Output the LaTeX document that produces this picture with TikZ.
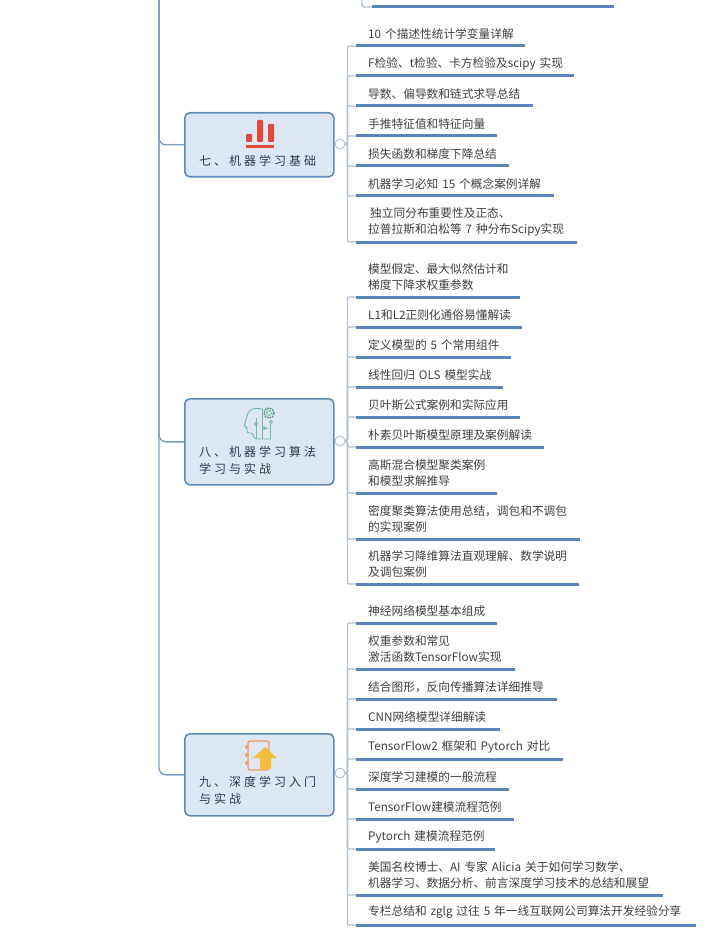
\documentclass[tikz,border=0pt]{standalone}
\usepackage{fontspec}
\setmainfont{Noto Sans CJK SC}
\newfontfamily\topicfont[LetterSpace=25]{Noto Sans CJK SC}
\usepackage{tikz}
\pgfdeclarelayer{background}
\pgfsetlayers{background,main}
\definecolor{linkblue}{HTML}{5B83BC}
\definecolor{stemgray}{HTML}{AFC0D3}
\definecolor{trunkblue}{HTML}{7C9CC4}
\definecolor{topicfill}{HTML}{DDE7F4}
\definecolor{topicline}{HTML}{5F8AB6}
\definecolor{leaftext}{HTML}{3F3F3F}
\definecolor{topictext}{HTML}{2F3C4C}
\definecolor{barred}{HTML}{E0483A}
\definecolor{headgreen}{HTML}{6FBF9B}
\definecolor{bookorange}{HTML}{F0A060}
\definecolor{arrowyellow}{HTML}{F7BE3C}

\begin{document}
\begin{tikzpicture}[
		x=1pt, y=-1pt,
		leaf/.style={anchor=south west, inner xsep=12pt, inner ysep=6pt, text width=#1pt, align=left, text=leaftext, font=\fontsize{11.7}{16}\selectfont},
		topic/.style={draw=topicline, fill=topicfill, line width=1.6pt, rounded corners=5pt, anchor=north west, minimum width=149pt, minimum height=#1pt, inner sep=0pt},
		topiclabel/.style={anchor=north west, inner sep=0pt, text width=130pt, align=left, text=topictext, font=\fontsize{12}{17}\topicfont},
		fold/.style={circle, draw=topicline!60, fill=white, line width=0.8pt, minimum size=10pt, inner sep=0pt},
		under/.style={draw=linkblue, line width=3pt},
		stem/.style={draw=stemgray, line width=1.3pt, rounded corners=2pt},
		trunk/.style={draw=trunkblue, line width=1.4pt, rounded corners=7pt},
		]
		\useasboundingbox (0,0) rectangle (706,941);
		
		%Nodes
		\coordinate (top) at (159,0);
		\coordinate (prevtop) at (362,0);
		\coordinate (prevl) at (372,7);
		\coordinate (prevr) at (614,7);
		
		\node[topic=64]    (b7)    at (184,112)    {};
		\node[topiclabel]  (t7)    at (199,155)    {七、机器学习基础};
		\node[fold]        (c7)    at (340,144)    {};
		\node[leaf=145]    (n70)   at (356,46)     {10~个描述性统计学变量详解};
		\node[leaf=194]    (n71)   at (356,76)     {F检验、t检验、卡方检验及scipy~实现};
		\node[leaf=153]    (n72)   at (356,106)    {导数、偏导数和链式求导总结};
		\node[leaf=117]    (n73)   at (356,136)    {手推特征值和特征向量};
		\node[leaf=129]    (n74)   at (356,166)    {损失函数和梯度下降总结};
		\node[leaf=174]    (n75)   at (356,196)    {机器学习必知~15~个概念案例详解};
		\node[leaf=197]    (n76)   at (356,242)    {\hspace{2pt}独立同分布重要性及正态、\\拉普拉斯和泊松等~7~种分布Scipy实现};
		
		\node[topic=86]    (b8)    at (184,398)    {};
		\node[topiclabel]  (t8)    at (199,446)    {八、机器学习算法\\学习与实战};
		\node[fold]        (c8)    at (340,441)    {};
		\node[leaf=140]    (n80)   at (356,297)    {模型假定、最大似然估计和\\梯度下降求权重参数};
		\node[leaf=142]    (n81)   at (356,327)    {L1和L2正则化通俗易懂解读};
		\node[leaf=131]    (n82)   at (356,357)    {定义模型的~5~个常用组件};
		\node[leaf=123]    (n83)   at (356,387)    {线性回归~OLS~模型实战};
		\node[leaf=140]    (n84)   at (356,417)    {贝叶斯公式案例和实际应用};
		\node[leaf=164]    (n85)   at (356,447)    {朴素贝叶斯模型原理及案例解读};
		\node[leaf=117]    (n86)   at (356,493)    {高斯混合模型聚类案例\\和模型求解推导};
		\node[leaf=200]    (n87)   at (356,539)    {密度聚类算法使用总结，调包和不调包\\的实现案例};
		\node[leaf=199]    (n88)   at (356,584)    {机器学习降维算法直观理解、数学说明\\及调包案例};
		
		\node[topic=82]    (b9)    at (184,733)    {};
		\node[topiclabel]  (t9)    at (199,776)    {九、深度学习入门\\与实战};
		\node[fold]        (c9)    at (340,773)    {};
		\node[leaf=117]    (n90)   at (356,623)    {神经网络模型基本组成};
		\node[leaf=135]    (n91)   at (356,669)    {权重参数和常见\\激活函数TensorFlow实现};
		\node[leaf=177]    (n92)   at (356,699)    {结合图形，反向传播算法详细推导};
		\node[leaf=120]    (n93)   at (356,729)    {CNN网络模型详细解读};
		\node[leaf=183]    (n94)   at (356,759)    {TensorFlow2~框架和~Pytorch~对比};
		\node[leaf=129]    (n95)   at (356,789)    {深度学习建模的一般流程};
		\node[leaf=134]    (n96)   at (356,819)    {TensorFlow建模流程范例};
		\node[leaf=115]    (n97)   at (356,849)    {Pytorch~建模流程范例};
		\node[leaf=283]    (n98)   at (356,895)    {美国名校博士、AI~专家~Alicia~关于如何学习数学、\\机器学习、数据分析、前言深度学习技术的总结和展望};
		\node[leaf=316]    (n99)   at (356,925)    {专栏总结和~zglg~过往~5~年一线互联网公司算法开发经验分享};
		
		%Icons
		\fill[barred, rounded corners=1pt] (246,134) rectangle (252,142);
		\fill[barred, rounded corners=1pt] (257,120) rectangle (263,142);
		\fill[barred, rounded corners=1pt] (268,124) rectangle (274,142);
		\fill[barred] (246,145) rectangle (274,148);
		
		\draw[headgreen, line width=0.9pt, rounded corners=2pt] (262,409) -- (254,408) -- (248,412) -- (246,420) -- (244,426) -- (247,427) -- (247,433) -- (253,433) -- (254,439) -- (271,439);
		\draw[headgreen, line width=0.9pt] (262,409) -- (262,439) (256,418) -- (256,439) (264,428) -- (268,428) (270,424) -- (270,439);
		\draw[headgreen, line width=0.9pt] (256,424) circle (1.6pt) (264,428) circle (1.6pt) (271,422) circle (1.6pt);
		\draw[headgreen!80!black, line width=1.6pt, densely dotted] (269,413) circle (5pt);
		\draw[headgreen, line width=0.9pt] (269,413) circle (2.4pt);
		
		\draw[bookorange, line width=1.3pt, rounded corners=2pt] (248,741) rectangle (269,770);
		\foreach \ypos in {747,755,763} {
			\fill[bookorange] (247,\ypos) circle (2pt);
		}
		\fill[arrowyellow] (265,747) -- (277,758) -- (271,758) -- (271,769) -- (260,769) -- (260,758) -- (253,758) -- cycle;
		
		\begin{pgfonlayer}{background}
			\draw[trunk] (top) |- (b7.west);
			\draw[trunk] (top) |- (b8.west);
			\draw[trunk] (top) |- (b9.west);
			\draw[stem] (prevtop) |- (prevl);
			\draw[under] (prevl) -- (prevr);
			
			\draw[stem] (c7.east) -- ++(2,0) |- (n70.south west);
			\draw[stem] (c7.east) -- ++(2,0) |- (n71.south west);
			\draw[stem] (c7.east) -- ++(2,0) |- (n72.south west);
			\draw[stem] (c7.east) -- ++(2,0) |- (n73.south west);
			\draw[stem] (c7.east) -- ++(2,0) |- (n74.south west);
			\draw[stem] (c7.east) -- ++(2,0) |- (n75.south west);
			\draw[stem] (c7.east) -- ++(2,0) |- (n76.south west);
			\draw[under] (n70.south west) -- (n70.south east);
			\draw[under] (n71.south west) -- (n71.south east);
			\draw[under] (n72.south west) -- (n72.south east);
			\draw[under] (n73.south west) -- (n73.south east);
			\draw[under] (n74.south west) -- (n74.south east);
			\draw[under] (n75.south west) -- (n75.south east);
			\draw[under] (n76.south west) -- (n76.south east);
			
			\draw[stem] (c8.east) -- ++(2,0) |- (n80.south west);
			\draw[stem] (c8.east) -- ++(2,0) |- (n81.south west);
			\draw[stem] (c8.east) -- ++(2,0) |- (n82.south west);
			\draw[stem] (c8.east) -- ++(2,0) |- (n83.south west);
			\draw[stem] (c8.east) -- ++(2,0) |- (n84.south west);
			\draw[stem] (c8.east) -- ++(2,0) |- (n85.south west);
			\draw[stem] (c8.east) -- ++(2,0) |- (n86.south west);
			\draw[stem] (c8.east) -- ++(2,0) |- (n87.south west);
			\draw[stem] (c8.east) -- ++(2,0) |- (n88.south west);
			\draw[under] (n80.south west) -- (n80.south east);
			\draw[under] (n81.south west) -- (n81.south east);
			\draw[under] (n82.south west) -- (n82.south east);
			\draw[under] (n83.south west) -- (n83.south east);
			\draw[under] (n84.south west) -- (n84.south east);
			\draw[under] (n85.south west) -- (n85.south east);
			\draw[under] (n86.south west) -- (n86.south east);
			\draw[under] (n87.south west) -- (n87.south east);
			\draw[under] (n88.south west) -- (n88.south east);
			
			\draw[stem] (c9.east) -- ++(2,0) |- (n90.south west);
			\draw[stem] (c9.east) -- ++(2,0) |- (n91.south west);
			\draw[stem] (c9.east) -- ++(2,0) |- (n92.south west);
			\draw[stem] (c9.east) -- ++(2,0) |- (n93.south west);
			\draw[stem] (c9.east) -- ++(2,0) |- (n94.south west);
			\draw[stem] (c9.east) -- ++(2,0) |- (n95.south west);
			\draw[stem] (c9.east) -- ++(2,0) |- (n96.south west);
			\draw[stem] (c9.east) -- ++(2,0) |- (n97.south west);
			\draw[stem] (c9.east) -- ++(2,0) |- (n98.south west);
			\draw[stem] (c9.east) -- ++(2,0) |- (n99.south west);
			\draw[under] (n90.south west) -- (n90.south east);
			\draw[under] (n91.south west) -- (n91.south east);
			\draw[under] (n92.south west) -- (n92.south east);
			\draw[under] (n93.south west) -- (n93.south east);
			\draw[under] (n94.south west) -- (n94.south east);
			\draw[under] (n95.south west) -- (n95.south east);
			\draw[under] (n96.south west) -- (n96.south east);
			\draw[under] (n97.south west) -- (n97.south east);
			\draw[under] (n98.south west) -- (n98.south east);
			\draw[under] (n99.south west) -- (n99.south east);
		\end{pgfonlayer}
\end{tikzpicture}
\end{document}
